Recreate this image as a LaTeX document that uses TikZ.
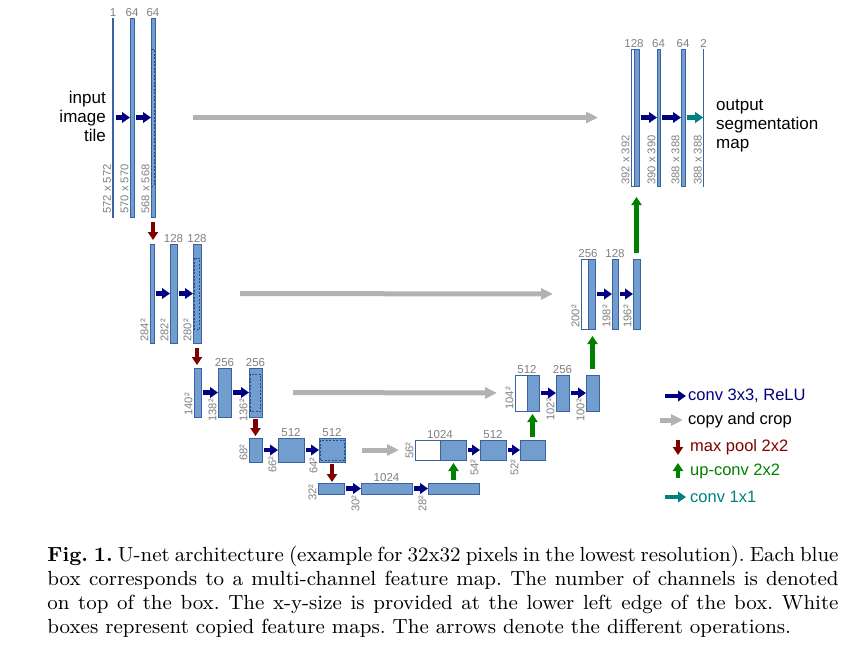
\documentclass[tikz,border=0pt]{standalone}
\usepackage{fontspec}
\newfontfamily\arialfont{Liberation Sans}
\usetikzlibrary{arrows.meta}
\definecolor{fmapfill}{RGB}{113,158,207}
\definecolor{fmapline}{RGB}{58,98,163}
\definecolor{cropline}{RGB}{40,75,140}
\definecolor{convblue}{RGB}{0,0,128}
\definecolor{poolred}{RGB}{128,0,0}
\definecolor{upgreen}{RGB}{0,128,0}
\definecolor{outteal}{RGB}{0,128,128}
\definecolor{copygray}{RGB}{178,178,178}
\definecolor{labelgray}{RGB}{128,128,128}
\tikzset{
  fmap/.style={draw=fmapline, fill=fmapfill, line width=0.9pt, inner sep=0pt, outer sep=0pt},
  copybox/.style={fmap, fill=white},
  crop/.style={draw=cropline, line width=0.8pt, dash pattern=on 2pt off 1.5pt},
  chanlabel/.style={font=\arialfont\fontsize{11.5}{12}\selectfont, text=labelgray, inner sep=1pt, anchor=south},
  sizelabel/.style={font=\arialfont\fontsize{11.2}{12}\selectfont, text=labelgray, inner sep=1.2pt, rotate=90, anchor=south west},
  convarrow/.style={draw=convblue, line width=4.5pt, -{Triangle[length=8pt,width=10.5pt]}, shorten <=2pt},
  outarrow/.style={draw=outteal, line width=4.5pt, -{Triangle[length=8pt,width=10.5pt]}, shorten <=2pt},
  copyarrow/.style={draw=copygray, line width=5pt, -{Triangle[length=12pt,width=11pt]}},
  poolarrow/.style={draw=poolred, line width=4.5pt, -{Triangle[length=8pt,width=10pt]}},
  uparrow/.style={draw=upgreen, line width=4.5pt, -{Triangle[length=8pt,width=10pt]}},
  sidetext/.style={font=\arialfont\fontsize{17}{19}\selectfont, inner sep=0pt},
  legendtext/.style={font=\arialfont\fontsize{16.5}{18}\selectfont, inner sep=0pt, anchor=west},
  capttext/.style={font=\fontsize{9}{10.57}\selectfont, text width=348.5pt, align=justify, inner sep=0pt, anchor=north west, scale=2.27}
}
\begin{document}
\begin{tikzpicture}[x=1pt, y=-1pt]
\useasboundingbox (0,0) rectangle (862,665);

% contracting path
\node[fmap, minimum width=1.2pt, minimum height=199pt] (c1a) at (113,117.5) {};
\node[fmap, minimum width=4pt, minimum height=199pt] (c1b) at (132,117.5) {};
\node[fmap, minimum width=4pt, minimum height=199pt] (c1c) at (153,117.5) {};
\node[fmap, minimum width=4pt, minimum height=99pt] (c2a) at (152,293.5) {};
\node[fmap, minimum width=7pt, minimum height=99pt] (c2b) at (173.5,293.5) {};
\node[fmap, minimum width=8pt, minimum height=99pt] (c2c) at (197,293.5) {};
\node[fmap, minimum width=7pt, minimum height=49pt] (c3a) at (197.5,392.5) {};
\node[fmap, minimum width=13pt, minimum height=49pt] (c3b) at (224.5,392.5) {};
\node[fmap, minimum width=13pt, minimum height=49pt] (c3c) at (255.5,392.5) {};
\node[fmap, minimum width=13pt, minimum height=24pt] (c4a) at (255.5,450) {};
\node[fmap, minimum width=26pt, minimum height=24pt] (c4b) at (291,450) {};
\node[fmap, minimum width=26pt, minimum height=24pt] (c4c) at (332,450) {};
\node[fmap, minimum width=26pt, minimum height=11pt] (c5a) at (331,488.5) {};
\node[fmap, minimum width=51pt, minimum height=11pt] (c5b) at (386.5,488.5) {};
\node[fmap, minimum width=51pt, minimum height=11pt] (c5c) at (453.5,488.5) {};
% cropped parts
\draw[crop] (151.8,49) rectangle (154.2,186);
\draw[crop] (194.2,258) rectangle (199.8,329);
\draw[crop] (250.5,374) rectangle (260.5,411);
\draw[crop] (320,440) rectangle (344,460);

% expansive path
\node[copybox, minimum width=25pt, minimum height=20pt] (u4w) at (427.5,450) {};
\node[fmap, minimum width=26pt, minimum height=20pt] (u4a) at (453,450) {};
\node[fmap, minimum width=26pt, minimum height=20pt] (u4b) at (493,450) {};
\node[fmap, minimum width=25pt, minimum height=20pt] (u4c) at (532.5,450) {};
\node[copybox, minimum width=12pt, minimum height=36pt] (u3w) at (521,393) {};
\node[fmap, minimum width=12pt, minimum height=36pt] (u3a) at (533,393) {};
\node[fmap, minimum width=13pt, minimum height=36pt] (u3b) at (562.5,393) {};
\node[fmap, minimum width=13pt, minimum height=36pt] (u3c) at (592.5,393) {};
\node[copybox, minimum width=7pt, minimum height=70pt] (u2w) at (584.5,294) {};
\node[fmap, minimum width=7pt, minimum height=70pt] (u2a) at (591.5,294) {};
\node[fmap, minimum width=6pt, minimum height=70pt] (u2b) at (615,294) {};
\node[fmap, minimum width=7pt, minimum height=70pt] (u2c) at (636.5,294) {};
\node[copybox, minimum width=3pt, minimum height=137pt] (u1w) at (632.5,117.5) {};
\node[fmap, minimum width=5pt, minimum height=137pt] (u1a) at (636.5,117.5) {};
\node[fmap, minimum width=3pt, minimum height=137pt] (u1b) at (658.5,117.5) {};
\node[fmap, minimum width=4pt, minimum height=137pt] (u1c) at (683,117.5) {};
\node[fmap, minimum width=0.6pt, minimum height=137pt] (u1d) at (703.5,117.5) {};

% conv 3x3
\draw[convarrow] (c1a) -- (c1b);
\draw[convarrow] (c1b) -- (c1c);
\draw[convarrow] (c2a) -- (c2b);
\draw[convarrow] (c2b) -- (c2c);
\draw[convarrow] (c3a) -- (c3b);
\draw[convarrow] (c3b) -- (c3c);
\draw[convarrow] (c4a) -- (c4b);
\draw[convarrow] (c4b) -- (c4c);
\draw[convarrow] (c5a) -- (c5b);
\draw[convarrow] (c5b) -- (c5c);
\draw[convarrow] (u4a) -- (u4b);
\draw[convarrow] (u4b) -- (u4c);
\draw[convarrow] (u3a) -- (u3b);
\draw[convarrow] (u3b) -- (u3c);
\draw[convarrow] (u2a) -- (u2b);
\draw[convarrow] (u2b) -- (u2c);
\draw[convarrow] (u1a) -- (u1b);
\draw[convarrow] (u1b) -- (u1c);
\draw[outarrow] (u1c) -- (u1d);

% copy and crop
\draw[copyarrow, shorten <=38pt, shorten >=33pt] (c1c) -- (u1w);
\draw[copyarrow, shorten <=39pt, shorten >=28pt] (c2c) -- (u2w);
\draw[copyarrow, shorten <=31pt, shorten >=18pt] (c3c) -- (u3w);
\draw[copyarrow, shorten <=17pt, shorten >=16pt] (c4c) -- (u4w);

% max pool
\draw[poolarrow, shorten <=5pt, shorten >=4pt] (c1c.south) -- (c1c.south |- c2a.north);
\draw[poolarrow, shorten <=5pt, shorten >=3pt] (c2c.south) -- (c2c.south |- c3a.north);
\draw[poolarrow, shorten <=2pt, shorten >=2pt] (c3c.south) -- (c3c.south |- c4a.north);
\draw[poolarrow, shorten <=2pt, shorten >=1pt] (c4c.south) -- (c4c.south |- c5a.north);

% up-conv
\draw[uparrow, shorten <=3pt, shorten >=3pt] (c5c.north) -- (c5c.north |- u4a.south);
\draw[uparrow, shorten <=3pt, shorten >=3pt] (u4c.north) -- (u4c.north |- u3a.south);
\draw[uparrow, shorten <=6pt, shorten >=7pt] (u3c.north) -- (u3c.north |- u2a.south);
\draw[uparrow, shorten <=6pt, shorten >=11pt] (u2c.north) -- (u2c.north |- u1a.south);

% channels
\node[chanlabel] (n1a) at (c1a.north) {1};
\node[chanlabel] (n1b) at (c1b.north) {64};
\node[chanlabel] (n1c) at (c1c.north) {64};
\node[chanlabel] (n2b) at (c2b.north) {128};
\node[chanlabel] (n2c) at (c2c.north) {128};
\node[chanlabel] (n3b) at (c3b.north) {256};
\node[chanlabel] (n3c) at (c3c.north) {256};
\node[chanlabel] (n4b) at (c4b.north) {512};
\node[chanlabel] (n4c) at (c4c.north) {512};
\node[chanlabel] (n5b) at (c5b.north) {1024};
\node[chanlabel] (nu4a) at (u4w.north east) {1024};
\node[chanlabel] (nu4b) at (u4b.north) {512};
\node[chanlabel] (nu3a) at (u3w.north east) {512};
\node[chanlabel] (nu3b) at (u3b.north) {256};
\node[chanlabel] (nu2a) at (u2w.north east) {256};
\node[chanlabel] (nu2b) at (u2b.north) {128};
\node[chanlabel] (nu1a) at (u1w.north east) {128};
\node[chanlabel] (nu1b) at (u1b.north) {64};
\node[chanlabel] (nu1c) at (u1c.north) {64};
\node[chanlabel] (nu1d) at (u1d.north) {2};

% sizes
\node[sizelabel] (s1a) at ([yshift=2pt]c1a.south west) {572 x 572};
\node[sizelabel] (s1b) at ([yshift=2pt]c1b.south west) {570 x 570};
\node[sizelabel] (s1c) at ([yshift=2pt]c1c.south west) {568 x 568};
\node[sizelabel] (s2a) at (c2a.south west) {284²};
\node[sizelabel] (s2b) at (c2b.south west) {282²};
\node[sizelabel] (s2c) at (c2c.south west) {280²};
\node[sizelabel] (s3a) at (c3a.south west) {140²};
\node[sizelabel] (s3b) at ([yshift=-6pt]c3b.south west) {138²};
\node[sizelabel] (s3c) at ([yshift=-6pt]c3c.south west) {136²};
\node[sizelabel] (s4a) at (c4a.south west) {68²};
\node[sizelabel] (s4b) at ([yshift=-12pt]c4b.south west) {66²};
\node[sizelabel] (s4c) at ([yshift=-13pt]c4c.south west) {64²};
\node[sizelabel] (s5a) at ([yshift=-8pt]c5a.south west) {32²};
\node[sizelabel] (s5b) at ([yshift=-19pt]c5b.south west) {30²};
\node[sizelabel] (s5c) at ([yshift=-19pt]c5c.south west) {28²};
\node[sizelabel] (su4a) at (u4w.south west) {56²};
\node[sizelabel] (su4b) at ([yshift=-17pt]u4b.south west) {54²};
\node[sizelabel] (su4c) at ([yshift=-17pt]u4c.south west) {52²};
\node[sizelabel] (su3a) at (u3w.south west) {104²};
\node[sizelabel] (su3b) at ([yshift=-11pt]u3b.south west) {102²};
\node[sizelabel] (su3c) at ([yshift=-12pt]u3c.south west) {100²};
\node[sizelabel] (su2a) at (u2w.south west) {200²};
\node[sizelabel] (su2b) at (u2b.south west) {198²};
\node[sizelabel] (su2c) at (u2c.south west) {196²};
\node[sizelabel] (su1a) at (u1w.south west) {392 x 392};
\node[sizelabel] (su1b) at (u1b.south west) {390 x 390};
\node[sizelabel] (su1c) at (u1c.south west) {388 x 388};
\node[sizelabel] (su1d) at (u1d.south west) {388 x 388};

% side texts
\node[sidetext, anchor=east, align=right] (intile) at (106,116) {input\\image\\tile};
\node[sidetext, anchor=west, align=left] (outmap) at (716,126) {output\\segmentation\\map};

% legend
\node[legendtext, text=convblue] (lgconv) at (688,396) {conv 3x3, ReLU};
\node[legendtext] (lgcopy) at (688,420) {copy and crop};
\node[legendtext, text=poolred] (lgpool) at (690,447) {max pool 2x2};
\node[legendtext, text=upgreen] (lgup) at (690,471) {up-conv 2x2};
\node[legendtext, text=outteal] (lgout) at (690,497) {conv 1x1};
\draw[convarrow, shorten <=0pt, shorten >=2pt] ([xshift=-23pt]lgconv.west) -- (lgconv.west);
\draw[copyarrow, shorten >=5pt] ([xshift=-28pt]lgcopy.west) -- (lgcopy.west);
\draw[poolarrow] ([xshift=-12pt,yshift=7pt]lgpool.west) -- ([xshift=-12pt,yshift=-8pt]lgpool.west);
\draw[uparrow] ([xshift=-12pt,yshift=-7pt]lgup.west) -- ([xshift=-12pt,yshift=8pt]lgup.west);
\draw[outarrow, shorten <=0pt, shorten >=4pt] ([xshift=-25pt]lgout.west) -- (lgout.west);

% caption
\node[capttext] (capt) at (47,546) {\frenchspacing\textbf{Fig.~1.} U-net architecture (example for 32x32 pixels in the lowest resolution). Each blue\linebreak box corresponds to a multi-channel feature map. The number of channels is denoted\linebreak on top of the box. The x-y-size is provided at the lower left edge of the box. White\linebreak boxes represent copied feature maps. The arrows denote the different operations.};
\end{tikzpicture}
\end{document}
